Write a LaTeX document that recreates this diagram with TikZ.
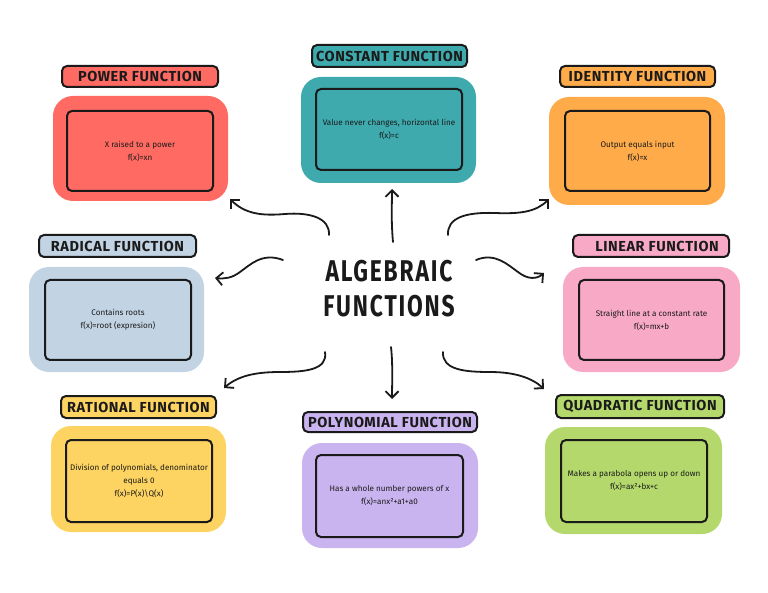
\documentclass[tikz,border=0pt]{standalone}
\usepackage{fontspec}
\setmainfont{Fira Sans}
\newfontfamily\labelfont{Fira Sans}[LetterSpace=4]
\newfontfamily\titlefont{Fira Sans}[LetterSpace=8]
\usetikzlibrary{arrows.meta}
\definecolor{cpow}{HTML}{FF6B63}
\definecolor{ccon}{HTML}{3EAAAD}
\definecolor{cide}{HTML}{FFAB4A}
\definecolor{crad}{HTML}{C2D3E3}
\definecolor{clin}{HTML}{F8A9C5}
\definecolor{crat}{HTML}{FDD361}
\definecolor{cpol}{HTML}{C9B4EF}
\definecolor{cqua}{HTML}{B4D86B}
\definecolor{ink}{HTML}{1A1A1A}
\tikzset{
  outerbox/.style={fill=#1, draw=none, rounded corners=20pt, inner sep=0pt},
  innerbox/.style={fill=#1, draw=ink, line width=2pt, rounded corners=5pt, inner sep=0pt,
    align=center, font=\fontsize{8.1}{13}\selectfont, text=ink},
  labelbox/.style={fill=#1, draw=ink, line width=2pt, rounded corners=5pt, inner sep=0pt,
    font=\labelfont\bfseries\fontsize{14.5}{16}\selectfont, text=ink},
  flow/.style={draw=ink, line width=1.8pt, line cap=round,
    -{Straight Barb[length=6.5pt,width=13pt,line width=1.8pt]}},
}
\newcommand{\titletext}[1]{\scalebox{0.76}[1]{#1}}
\begin{document}
\begin{tikzpicture}[x=1pt,y=-1pt]
\useasboundingbox (0,0) rectangle (768,593);
\fill[white] (0,0) rectangle (768,593);

% POWER
\node[outerbox=cpow, minimum width=175pt, minimum height=105pt] (powO) at (140.5,148.5) {};
\node[innerbox=cpow, minimum width=146pt, minimum height=80pt] (powI) at (140,151) {X raised to a power\\f(x)=xn};
\node[labelbox=cpow, minimum width=156pt, minimum height=21pt] (powL) at (140,76.5) {POWER FUNCTION};

% CONSTANT
\node[outerbox=ccon, minimum width=175pt, minimum height=106pt] (conO) at (388.5,130) {};
\node[innerbox=ccon, minimum width=146pt, minimum height=81pt] (conI) at (389,129.5) {Value never changes, horizontal line\\f(x)=c};
\node[labelbox=ccon, minimum width=155pt, minimum height=22pt] (conL) at (389.5,56) {CONSTANT FUNCTION};

% IDENTITY
\node[outerbox=cide, minimum width=176pt, minimum height=108pt] (ideO) at (637,151) {};
\node[innerbox=cide, minimum width=145pt, minimum height=80pt] (ideI) at (637.5,151) {Output equals input\\f(x)=x};
\node[labelbox=cide, minimum width=155pt, minimum height=21pt] (ideL) at (637.5,76.5) {IDENTITY FUNCTION};

% RADICAL
\node[outerbox=crad, minimum width=175pt, minimum height=105pt] (radO) at (116.5,319.5) {};
\node[innerbox=crad, minimum width=146pt, minimum height=80pt] (radI) at (118,320) {Contains roots\\f(x)=root (expresion)};
\node[labelbox=crad, minimum width=157pt, minimum height=22pt] (radL) at (117.5,246) {RADICAL FUNCTION};

% LINEAR
\node[outerbox=clin, minimum width=177pt, minimum height=105pt] (linO) at (651.5,319.5) {};
\node[innerbox=clin, minimum width=145pt, minimum height=80pt] (linI) at (651.5,320) {Straight line at a constant rate\\f(x)=mx+b};
\node[labelbox=clin, minimum width=156pt, minimum height=22pt] (linL) at (651,246) {\hspace*{12pt}LINEAR FUNCTION};

% RATIONAL
\node[outerbox=crat, minimum width=175pt, minimum height=106pt] (ratO) at (138.5,479) {};
\node[innerbox=crat, minimum width=146pt, minimum height=82pt] (ratI) at (139,481) {Division of polynomials, denominator\\equals 0\\f(x)=P(x)\textbackslash Q(x)};
\node[labelbox=crat, minimum width=155pt, minimum height=22pt] (ratL) at (138.5,407) {RATIONAL FUNCTION};

% POLYNOMIAL
\node[outerbox=cpol, minimum width=176pt, minimum height=105pt] (polO) at (390,495.5) {};
\node[innerbox=cpol, minimum width=147pt, minimum height=82pt] (polI) at (389.5,496) {Has a whole number powers of x\\f(x)=anx²+a1+a0};
\node[labelbox=cpol, minimum width=174pt, minimum height=20pt] (polL) at (390,422) {POLYNOMIAL FUNCTION};

% QUADRATIC
\node[outerbox=cqua, minimum width=177pt, minimum height=107pt] (quaO) at (633.5,480.5) {};
\node[innerbox=cqua, minimum width=146pt, minimum height=82pt] (quaI) at (634,481) {Makes a parabola opens up or down\\f(x)=ax²+bx+c};
\node[labelbox=cqua, minimum width=168pt, minimum height=23pt] (quaL) at (640,406.5) {QUADRATIC FUNCTION};

% TITLE
\node[text=ink, font=\titlefont\bfseries\fontsize{30}{35}\selectfont, align=center] (title) at (389,289)
  {\titletext{ALGEBRAIC}\\\titletext{FUNCTIONS}};

% connector ends
\coordinate (s1) at (329,235); \coordinate (e1) at (230,199);
\coordinate (s2) at (393,242); \coordinate (e2) at (392,189);
\coordinate (s3) at (448,235); \coordinate (e3) at (549,199);
\coordinate (s4) at (283,260); \coordinate (e4) at (215,278);
\coordinate (s5) at (476,260); \coordinate (e5) at (544,273);
\coordinate (s6) at (325,352); \coordinate (e6) at (224,388);
\coordinate (s7) at (391,347); \coordinate (e7) at (392,399);
\coordinate (s8) at (443,352); \coordinate (e8) at (544,389);

\draw[flow] (s1) .. controls (330,218) and (310,212) .. (285,214) .. controls (262,216) and (245,214) .. (e1);
\draw[flow] (s2) .. controls (391,220) and (392,205) .. (e2);
\draw[flow] (s3) .. controls (447,218) and (465,212) .. (495,213) .. controls (520,214) and (536,212) .. (e3);
\draw[flow] (s4) .. controls (262,252) and (250,265) .. (240,272) .. controls (232,278) and (225,279) .. (e4);
\draw[flow] (s5) .. controls (495,252) and (508,265) .. (518,272) .. controls (528,280) and (537,279) .. (e5);
\draw[flow] (s6) .. controls (328,370) and (305,372) .. (280,372) .. controls (255,372) and (238,376) .. (e6);
\draw[flow] (s7) .. controls (393,365) and (392,385) .. (e7);
\draw[flow] (s8) .. controls (442,370) and (465,372) .. (490,372) .. controls (515,372) and (532,378) .. (e8);
\end{tikzpicture}
\end{document}
